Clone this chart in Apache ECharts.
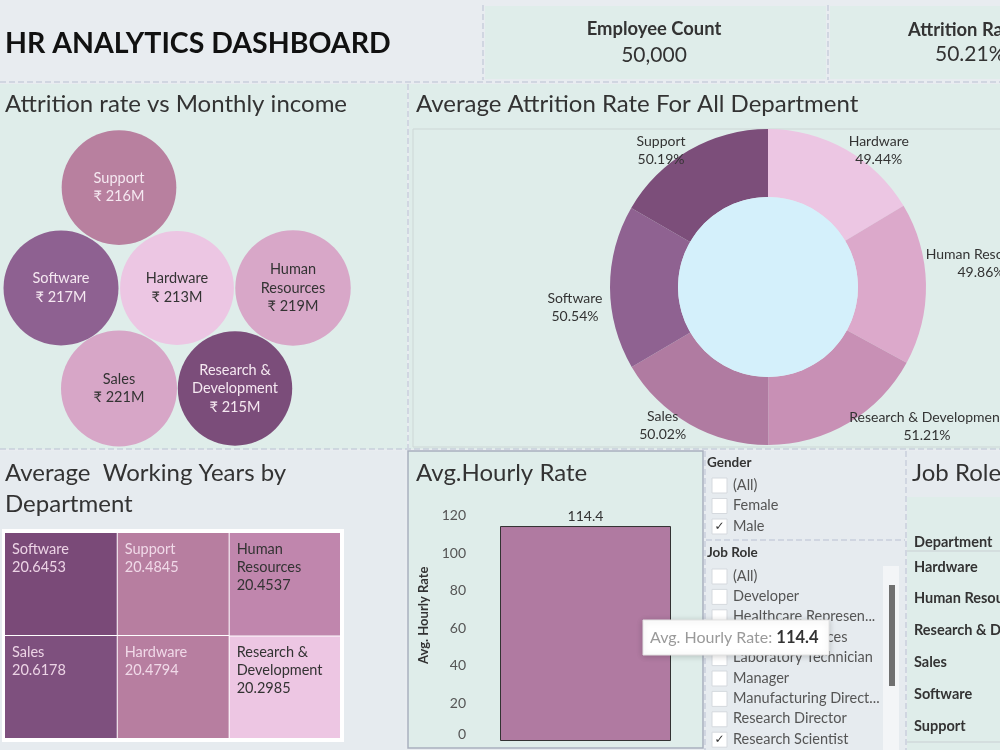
<!DOCTYPE html>
<html><head><meta charset="utf-8">
<script src="https://cdn.jsdelivr.net/npm/echarts@6/dist/echarts.min.js"></script>
<style>html,body{margin:0;padding:0;background:#e8ecf0}#c{width:1000px;height:750px}</style>
</head><body><div id="c"></div>
<script>
// ---------- DATA ----------
const departments = ['Hardware', 'Human Resources', 'Research & Development', 'Sales', 'Software', 'Support'];
const attritionRate = [49.44, 49.86, 51.21, 50.02, 50.54, 50.19];
const monthlyIncomeM = [213, 219, 215, 221, 217, 216];
const avgWorkingYears = [20.4794, 20.4537, 20.2985, 20.6178, 20.6453, 20.4845];
const hourlyCategories = ['Male'];
const hourlyRate = [114.4];
const employeeCount = 50000;
const overallAttrition = 50.21;
const genderOptions = ['(All)', 'Female', 'Male'];
const genderChecked = ['Male'];
const jobRoles = ['(All)', 'Developer', 'Healthcare Represen...', 'Human Resources', 'Laboratory Technician', 'Manager', 'Manufacturing Direct...', 'Research Director', 'Research Scientist'];
const jobRoleChecked = ['Research Scientist'];

// ---------- STYLES ----------
const FONT = 'Lato, "Noto Sans", "DejaVu Sans", sans-serif';
const donutColors = {'Hardware':'#ecc6e3','Human Resources':'#dca9cb','Research & Development':'#c890b5','Sales':'#b07ba1','Software':'#8f6291','Support':'#7c4e7a'};
const bubbleColors = {'Hardware':'#ecc6e3','Human Resources':'#d8a7c8','Research & Development':'#7b4d7a','Sales':'#d7a6c7','Software':'#8e6191','Support':'#b8809f'};
const bubbleLabelColors = {'Hardware':'#333','Human Resources':'#333','Research & Development':'#f5e8f1','Sales':'#333','Software':'#f5e8f1','Support':'#f5e8f1'};
const treeColors = {'Hardware':'#b77ea0','Human Resources':'#c086ad','Research & Development':'#edc6e3','Sales':'#7e507e','Software':'#7a4a78','Support':'#b77ea0'};
const treeLabelColors = {'Hardware':'#f0d9e8','Human Resources':'#333','Research & Development':'#333','Sales':'#ecd3e5','Software':'#ecd3e5','Support':'#f0d9e8'};
// packed-bubble layout: hex ring angle (deg) around the centre bubble
const bubbleSlot = {'Hardware':null,'Human Resources':0,'Support':120,'Software':180,'Sales':240,'Research & Development':300};
const donutLabelOffset = {'Hardware':[23,18],'Human Resources':[35,-20],'Research & Development':[68,-14],'Sales':[-17,-16],'Software':[-15,20],'Support':[-18,18]};

function wrapName(n){ if(n.length>10){const i=n.lastIndexOf(' ');return n.slice(0,i)+'\n'+n.slice(i+1);} return n; }

// ---------- BUILD ----------
const donutData = departments.map((d,i)=>({name:d,value:attritionRate[i],itemStyle:{color:donutColors[d]}}));
const donutLabelData = departments.map((d,i)=>({name:d,value:attritionRate[i],label:{offset:donutLabelOffset[d]}}));
const bubbleData = departments.map((d,i)=>{
  const a = bubbleSlot[d];
  const x = a===null?0:Math.cos(a*Math.PI/180), y = a===null?0:Math.sin(a*Math.PI/180);
  return {name:d,value:[x,y,monthlyIncomeM[i]],itemStyle:{color:bubbleColors[d]},label:{color:bubbleLabelColors[d]}};
});
const treeData = departments.map((d,i)=>({name:d,value:avgWorkingYears[i],itemStyle:{color:treeColors[d]},label:{color:treeLabelColors[d]}}));

function txt(x,y,text,opt){
  opt=opt||{};
  const st={text:text,fill:opt.fill||'#333',font:opt.font||('13px '+FONT),align:opt.align||'left',textAlign:opt.align||'left',verticalAlign:'middle',textVerticalAlign:'middle'};
  if(opt.rich) st.rich=opt.rich;
  return {type:'text',x:x,y:y,z:opt.z||5,silent:true,style:st};
}
function rect(x,y,w,h,fill,opt){opt=opt||{};return {type:'rect',z:opt.z||0,silent:true,shape:{x:x,y:y,width:w,height:h},style:{fill:fill,stroke:opt.stroke||null,lineWidth:opt.lw||0,shadowBlur:opt.sb||0,shadowColor:opt.sc||null,shadowOffsetY:opt.soy||0}};}
function dline(x1,y1,x2,y2,opt){opt=opt||{};return {type:'line',z:opt.z||1,silent:true,shape:{x1:x1,y1:y1,x2:x2,y2:y2},style:{stroke:opt.stroke||'#b9c0d2',lineWidth:opt.lw||1,lineDash:opt.solid?null:[6,3]}};}

const MINT = '#dfedea', GRAY = '#e6ebef';
const g = [];
// backgrounds
g.push(rect(0,0,1000,750,'#e8ecf0',{z:-5}));
g.push(rect(485,6,341,73,MINT,{z:-4}));
g.push(rect(830,6,170,73,MINT,{z:-4}));
g.push(rect(0,84,407,365,MINT,{z:-4}));
g.push(rect(409,84,591,365,MINT,{z:-4}));
g.push(rect(413,129,590,318,MINT,{z:-3,stroke:'#cdd7d6',lw:1}));
g.push(rect(0,451,405,299,GRAY,{z:-4}));
g.push(rect(408,451,295,297,MINT,{z:-4,stroke:'#a9b0be',lw:1.5}));
g.push(rect(706,451,199,299,GRAY,{z:-4}));
g.push(rect(907,451,93,299,GRAY,{z:-4}));
g.push(rect(907,497,93,253,MINT,{z:-3}));
g.push(rect(2,529,342,213,'#ffffff',{z:-3}));
// dashed separators
g.push(dline(483,5,483,80)); g.push(dline(828,5,828,80));
g.push(dline(0,82,1000,82));
g.push(dline(408,84,408,448));
g.push(dline(0,449,1000,449));
g.push(dline(705,451,705,750)); g.push(dline(906,451,906,750));
g.push(dline(706,540,905,540));
// header
g.push(txt(5,44,'HR ANALYTICS DASHBOARD',{font:'bold 28.5px '+FONT,fill:'#111'}));
g.push(txt(654,29,'Employee Count',{font:'bold 18.4px '+FONT,align:'center'}));
g.push(txt(654,55,employeeCount.toLocaleString('en-US'),{font:'21px '+FONT,align:'center'}));
g.push(txt(908,30,'Attrition Rate',{font:'bold 18.4px '+FONT}));
g.push(txt(935,54,overallAttrition.toFixed(2)+'%',{font:'21px '+FONT}));
// titles
const TF = '24px '+FONT;
g.push(txt(5,104,'Attrition rate vs Monthly income',{font:TF}));
g.push(txt(416,104,'Average Attrition Rate For All Department',{font:TF}));
g.push(txt(5,473,'Average  Working Years by',{font:TF}));
g.push(txt(5,504,'Department',{font:TF}));
g.push(txt(416,473,'Avg.Hourly Rate',{font:TF}));
g.push(txt(912,473,'Job Role',{font:TF}));
// donut hole
g.push({type:'circle',z:3,silent:true,shape:{cx:768,cy:287,r:90},style:{fill:'#d4f0fb'}});
// filters
function checkbox(x,y,checked){
  g.push(rect(x,y-7,15,15,'#ffffff',{z:2,stroke:'#d5d9de',lw:1}));
  if(checked) g.push(txt(x+7.5,y+1,'✓',{font:'12px "DejaVu Sans"',align:'center',fill:'#333',z:3}));
}
g.push(txt(707,463,'Gender',{font:'bold 13.5px '+FONT}));
genderOptions.forEach((o,i)=>{const y=485+i*20.5;checkbox(712,y,genderChecked.indexOf(o)>=0);g.push(txt(733,y,o,{font:'14.5px '+FONT,fill:'#555'}));});
g.push(txt(707,553,'Job Role',{font:'bold 13.5px '+FONT}));
g.push(rect(883,566,16,184,'#f3f5f7',{z:1}));
g.push(rect(889,585,6,101,'#707070',{z:2}));
jobRoles.forEach((o,i)=>{const y=576+i*20.4;checkbox(712,y,jobRoleChecked.indexOf(o)>=0);g.push(txt(733,y,o,{font:'14.5px '+FONT,fill:'#555'}));});
// job role table
g.push(txt(914,542,'Department',{font:'bold 14.5px '+FONT}));
g.push(dline(907,551,1000,551,{solid:true,stroke:'#c9cfd3'}));
departments.forEach((d,i)=>g.push(txt(914,567+i*31.8,d,{font:'bold 14.5px '+FONT,fill:'#333'})));
g.push(dline(907,742,1000,742,{solid:true,stroke:'#c9cfd3'}));
// tooltip
g.push(rect(643,620,186,35,'#ffffff',{z:50,stroke:'#e2e2e2',lw:1,sb:6,sc:'rgba(0,0,0,0.18)',soy:1}));
g.push(txt(650,638,'{a|Avg. Hourly Rate: }{b|'+hourlyRate[0]+'}',{z:51,rich:{a:{fill:'#9a9a9a',font:'16px '+FONT,color:'#9a9a9a',fontSize:16,fontFamily:FONT},b:{fill:'#333',color:'#333',fontWeight:'bold',fontSize:16.5,fontFamily:FONT,font:'bold 16.5px '+FONT}}}));

const option = {
  animation:false,
  backgroundColor:'#e8ecf0',
  textStyle:{fontFamily:FONT},
  graphic:{elements:g},
  grid:[
    {left:0,top:84,width:406,height:364,show:false},
    {left:470,top:515.5,width:231,height:225.5,show:false}
  ],
  xAxis:[
    {gridIndex:0,type:'value',min:-177/116,max:229/116,show:false},
    {gridIndex:1,type:'category',data:hourlyCategories,axisLine:{show:false},axisTick:{show:false},axisLabel:{show:false}}
  ],
  yAxis:[
    {gridIndex:0,type:'value',min:-160/116,max:204/116,show:false},
    {gridIndex:1,type:'value',min:0,max:120,interval:20,splitLine:{show:false},axisLine:{show:false},axisTick:{show:false},
     axisLabel:{color:'#555',fontSize:14,margin:4,fontFamily:FONT,verticalAlignMinLabel:'bottom'},
     name:'Avg. Hourly Rate',nameLocation:'middle',nameGap:40,nameTextStyle:{color:'#333',fontSize:13,fontWeight:'bold',fontFamily:FONT,padding:[0,0,0,26]}}
  ],
  series:[
    {type:'scatter',xAxisIndex:0,yAxisIndex:0,data:bubbleData,silent:true,
     symbolSize:function(v){return 116*Math.sqrt(v[2]/221);},
     itemStyle:{opacity:1},
     label:{show:true,position:'inside',fontSize:14.5,lineHeight:18.5,fontFamily:FONT,
       formatter:function(p){return wrapName(p.name)+'\n₹ '+p.value[2]+'M';}}},
    {type:'pie',center:[768,287],radius:[90,158],data:donutData,silent:true,label:{show:false},labelLine:{show:false},itemStyle:{borderWidth:0}},
    {type:'pie',center:[768,287],radius:[170,180],data:donutLabelData,silent:true,z:4,
     itemStyle:{color:'rgba(0,0,0,0)'},labelLine:{show:false},
     label:{show:true,position:'inside',color:'#333',fontSize:14,lineHeight:18,fontFamily:FONT,align:'center',
       formatter:function(p){return p.name+'\n'+p.value.toFixed(2)+'%';}}},
    {type:'treemap',left:5,top:533,width:335,height:205,roam:false,nodeClick:false,breadcrumb:{show:false},silent:true,
     data:treeData,itemStyle:{gapWidth:1,borderWidth:0,borderColor:'#fff'},
     label:{show:true,position:'insideTopLeft',padding:[7,7],fontSize:14.5,lineHeight:18,fontFamily:FONT,
       formatter:function(p){return wrapName(p.name)+'\n'+p.value.toFixed(4);}},
     upperLabel:{show:false},levels:[{itemStyle:{gapWidth:1,borderColor:'#fff'}}]},
    {type:'bar',xAxisIndex:1,yAxisIndex:1,data:hourlyRate,barWidth:171,silent:true,
     itemStyle:{color:'#b07aa1',borderColor:'#333',borderWidth:1},
     label:{show:true,position:'top',color:'#333',fontSize:14,distance:3,fontFamily:FONT}}
  ]
};
const chart = echarts.init(document.getElementById('c'),null,{renderer:'canvas'});
chart.setOption(option);
</script></body></html>
